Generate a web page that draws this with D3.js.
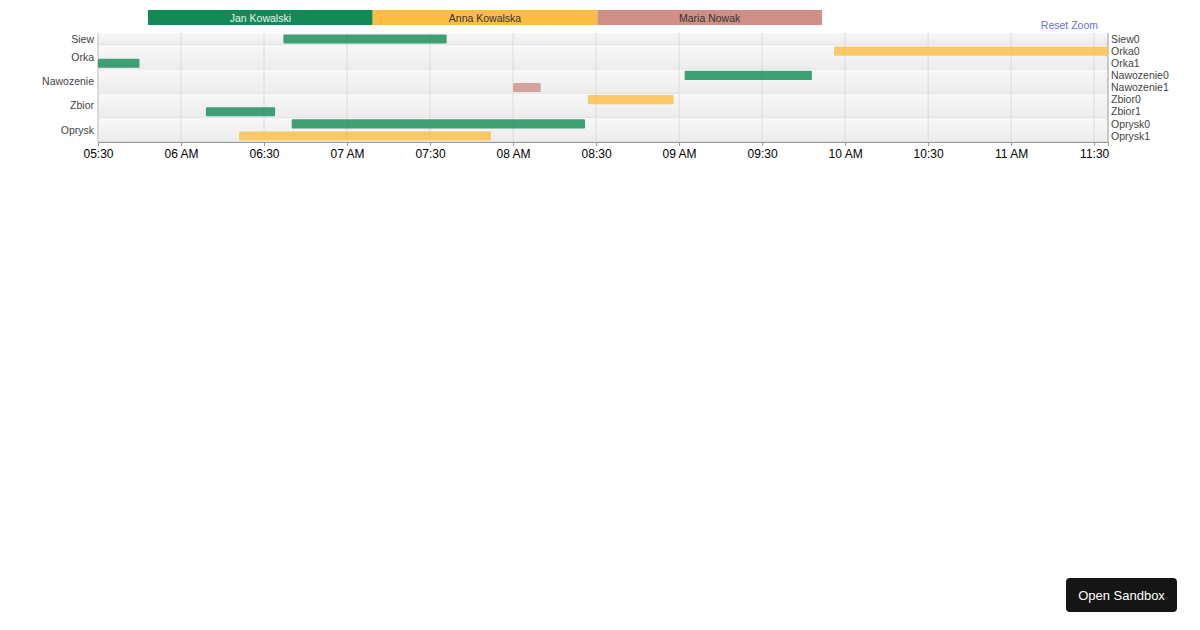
<!DOCTYPE html>
<html><head><meta charset="utf-8">
<script src="https://cdn.jsdelivr.net/npm/d3@7"></script>
<style>
body{margin:0;background:#fff;font-family:"Liberation Sans",Arial,sans-serif;}
#btn{position:absolute;left:1066px;top:578px;width:111px;height:34px;background:#151515;color:#fff;border-radius:4px;font:13px "Liberation Sans",Arial,sans-serif;display:flex;align-items:center;justify-content:center;}
</style></head>
<body>
<svg id="chart" width="1200" height="630"></svg>
<div id="btn">Open Sandbox</div>
<script>
var groups = ["Siew", "Orka", "Nawozenie", "Zbior", "Oprysk"];
var groupRows = [1, 2, 2, 2, 2];
var people = ["Jan Kowalski", "Anna Kowalska", "Maria Nowak"];
var peopleColors = ["#128a55", "#fdbd42", "#cf8f87"];
var peopleText = ["#e8f4ec", "#333", "#333"];
// task: [row, person index, start, end]
var taskRows = ["Siew0", "Orka0", "Orka1", "Nawozenie0", "Nawozenie1", "Zbior0", "Zbior1", "Oprysk0", "Oprysk1"];
var taskPeople = [0, 1, 0, 0, 2, 1, 0, 0, 1];
var taskStart = ["06:37", "09:56", "05:30", "09:02", "08:00", "08:27", "06:09", "06:40", "06:21"];
var taskEnd = ["07:36", "11:35", "05:45", "09:48", "08:10", "08:58", "06:34", "08:26", "07:52"];
var tickTimes = ["05:30","06:00","06:30","07:00","07:30","08:00","08:30","09:00","09:30","10:00","10:30","11:00","11:30"];

var parse = d3.timeParse("%H:%M");
var margin = {top: 33, left: 98, right: 92, bottom: 488};
var w = 1200 - margin.left - margin.right, h = 630 - margin.top - margin.bottom;
var svg = d3.select("#chart");
var defs = svg.append("defs");
var grad = defs.append("linearGradient").attr("id", "rowg").attr("x1", 0).attr("y1", 0).attr("x2", 0).attr("y2", 1);
grad.append("stop").attr("offset", "0%").attr("stop-color", "#f8f8f8");
grad.append("stop").attr("offset", "100%").attr("stop-color", "#ececec");

var x = d3.scaleTime().domain([parse("05:30"), parse("11:35")]).range([0, w]);
var y = d3.scaleBand().domain(taskRows).range([0, h]);
var g = svg.append("g").attr("transform", "translate(" + margin.left + "," + margin.top + ")");

// group backgrounds
var start = 0;
groups.forEach(function(name, i) {
    var r0 = taskRows[start], r1 = taskRows[start + groupRows[i] - 1];
    var y0 = y(r0), y1 = y(r1) + y.bandwidth();
    g.append("rect").attr("x", 0).attr("y", y0).attr("width", w).attr("height", y1 - y0).attr("fill", "url(#rowg)");
    g.append("line").attr("x1", 0).attr("x2", w).attr("y1", y1).attr("y2", y1).attr("stroke", "#d6d6d6");
    g.append("text").attr("x", -4).attr("y", (y0 + y1) / 2).attr("dy", ".35em")
        .attr("text-anchor", "end").attr("font-size", 10.5).attr("fill", "#444").text(name);
    start += groupRows[i];
});

var ticks = tickTimes.map(parse);
g.selectAll(".grid").data(ticks).enter().append("line")
    .attr("x1", function(d) { return x(d); }).attr("x2", function(d) { return x(d); })
    .attr("y1", 0).attr("y2", h).attr("stroke", "#dcdcdc");

var fmt = function(d) { return d.getMinutes() ? d3.timeFormat("%H:%M")(d) : d3.timeFormat("%I %p")(d); };
var ax = g.append("g").attr("transform", "translate(0," + h + ")")
    .call(d3.axisBottom(x).tickValues(ticks).tickFormat(fmt).tickSize(4));
ax.select(".domain").attr("stroke", "#999");
ax.selectAll(".tick line").attr("stroke", "#999");
ax.selectAll("text").attr("font-size", 12).attr("fill", "#000").attr("font-family", "Liberation Sans, Arial");
g.append("line").attr("x1", 0).attr("x2", 0).attr("y1", 0).attr("y2", h).attr("stroke", "#ccc");
g.append("line").attr("x1", w).attr("x2", w).attr("y1", 0).attr("y2", h).attr("stroke", "#999");

// right labels
g.selectAll(".rl").data(taskRows).enter().append("text")
    .attr("x", w + 3).attr("y", function(d) { return y(d) + y.bandwidth() / 2; }).attr("dy", ".35em")
    .attr("font-size", 10.5).attr("fill", "#444").text(function(d) { return d; });

// bars
g.selectAll(".bar").data(taskRows).enter().append("rect")
    .attr("x", function(d, i) { return x(parse(taskStart[i])); })
    .attr("width", function(d, i) { return x(parse(taskEnd[i])) - x(parse(taskStart[i])); })
    .attr("y", function(d) { return y(d) + 1.5; })
    .attr("height", y.bandwidth() - 3).attr("rx", 1)
    .attr("fill", function(d, i) { return peopleColors[taskPeople[i]]; })
    .attr("fill-opacity", 0.8);

// legend
var lx = d3.scaleBand().domain(people).range([148, 822]);
var lg = svg.selectAll(".leg").data(people).enter().append("g");
lg.append("rect").attr("x", function(d) { return lx(d); }).attr("y", 10)
    .attr("width", lx.bandwidth()).attr("height", 15)
    .attr("fill", function(d, i) { return peopleColors[i]; });
lg.append("text").attr("x", function(d) { return lx(d) + lx.bandwidth() / 2; }).attr("y", 18).attr("dy", ".35em")
    .attr("text-anchor", "middle").attr("font-size", 10.5)
    .attr("fill", function(d, i) { return peopleText[i]; }).text(function(d) { return d; });

svg.append("text").attr("x", 1098).attr("y", 29).attr("text-anchor", "end")
    .attr("font-size", 10.5).attr("fill", "#6b6bf0").text("Reset Zoom");
</script>
</body></html>
